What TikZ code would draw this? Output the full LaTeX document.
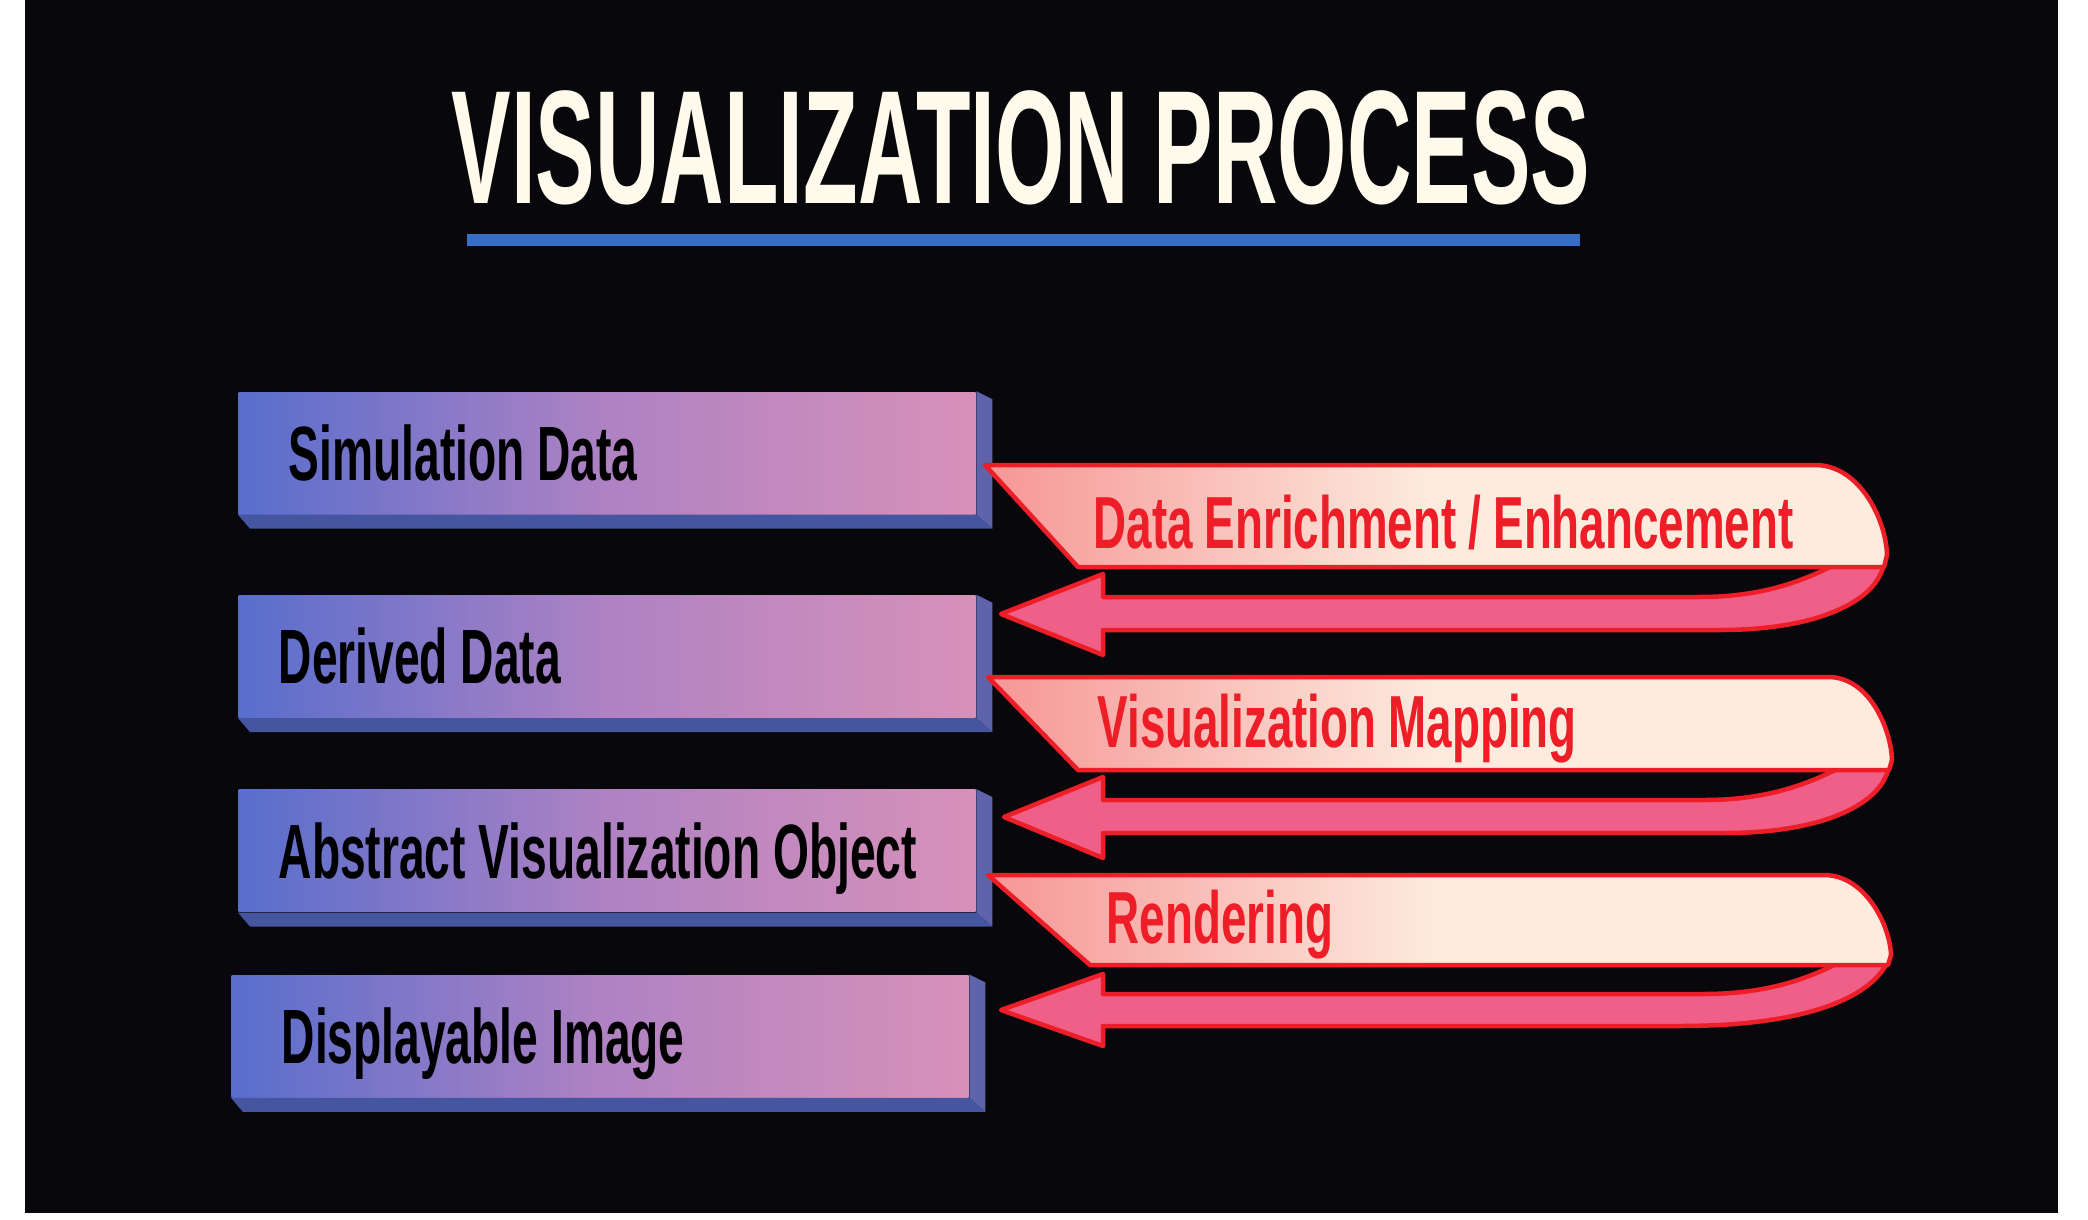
\documentclass[tikz,border=0pt]{standalone}
\usepackage{fontspec}
\newfontfamily\titlefont{Liberation Sans}[FakeStretch=0.552]
\newfontfamily\barfont{Liberation Sans}[FakeStretch=0.60, WordSpace=1.0]
\newfontfamily\stepfont{Liberation Sans}[FakeStretch=0.62, WordSpace=0.95]
\usetikzlibrary{positioning}

\definecolor{bgblack}{RGB}{8,8,12}
\definecolor{titlewhite}{RGB}{255,250,235}
\definecolor{ruleblue}{RGB}{55,110,195}
\definecolor{barblue}{RGB}{88,110,205}
\definecolor{barmid}{RGB}{175,130,195}
\definecolor{barpink}{RGB}{215,145,185}
\definecolor{barside}{RGB}{95,100,170}
\definecolor{barbottom}{RGB}{70,85,160}
\definecolor{ribbonred}{RGB}{238,30,40}
\definecolor{ribbonrose}{RGB}{246,150,150}
\definecolor{ribboncream}{RGB}{253,236,222}
\definecolor{ribbonpink}{RGB}{240,95,135}

\begin{document}
\begin{tikzpicture}[x = 0.1mm, y = -0.1mm,
titletext/.style = {anchor = base, inner sep = 0pt, text = titlewhite, font = \titlefont\bfseries\fontsize{46}{50}\selectfont},
rule/.style = {draw = ruleblue, line width = 1.2mm},
databox/.style = {shape = rectangle, left color = barblue, right color = barpink, middle color = barmid, text = black, font = \barfont\bfseries\fontsize{21.9}{24}\selectfont, minimum width = 73.7mm, minimum height = 12.2mm, text width = 65.7mm, align = flush left, inner xsep = 4mm, inner ysep = 0pt, text height = 5.5mm, text depth = 0pt},
barside/.style = {fill = barside},
barbottom/.style = {fill = barbottom},
stepface/.style = {draw = ribbonred, line width = 0.45mm, line join = round, left color = ribbonrose, right color = ribboncream, middle color = ribboncream},
stepunder/.style = {draw = ribbonred, line width = 0.45mm, line join = round, fill = ribbonpink},
steptext/.style = {anchor = base west, inner sep = 0pt, text = ribbonred, font = \stepfont\bfseries\fontsize{21}{24}\selectfont},
]
\useasboundingbox (0,0) rectangle (2088,1220);
\fill[white] (0,0) rectangle (2088,1220);
\fill[bgblack] (25,0) rectangle (2058,1213);

\node[titletext] (title) at (1021,203) {VISUALIZATION PROCESS};
\draw[rule] (467,240) -- (1580,240);

\node[databox, anchor = west] (sim) at (238,453) {\hspace{1mm}Simulation Data};
\node[databox] (der) [below = 8mm of sim] {Derived Data};
\node[databox] (avo) [below = 7.1mm of der] {Abstract Visualization Object};
\node[databox] (img) [below = 6.2mm of avo, xshift = -0.7mm] {\hspace{1mm}Displayable Image};

\fill[barside] (sim.north east) -- ++(16,8) -- ([shift={(16,14)}]sim.south east) -- (sim.south east) -- cycle;
\fill[barbottom] (sim.south west) -- (sim.south east) -- ([shift={(16,14)}]sim.south east) -- ([shift={(12,14)}]sim.south west) -- cycle;
\fill[barside] (der.north east) -- ++(16,8) -- ([shift={(16,14)}]der.south east) -- (der.south east) -- cycle;
\fill[barbottom] (der.south west) -- (der.south east) -- ([shift={(16,14)}]der.south east) -- ([shift={(12,14)}]der.south west) -- cycle;
\fill[barside] (avo.north east) -- ++(16,8) -- ([shift={(16,14)}]avo.south east) -- (avo.south east) -- cycle;
\fill[barbottom] (avo.south west) -- (avo.south east) -- ([shift={(16,14)}]avo.south east) -- ([shift={(12,14)}]avo.south west) -- cycle;
\fill[barside] (img.north east) -- ++(16,8) -- ([shift={(16,14)}]img.south east) -- (img.south east) -- cycle;
\fill[barbottom] (img.south west) -- (img.south east) -- ([shift={(16,14)}]img.south east) -- ([shift={(12,14)}]img.south west) -- cycle;

% data enrichment
\draw[stepunder] (1884,563) .. controls (1878,600) and (1820,630) .. (1720,630) -- (1103,630) -- (1103,655) -- (1001,614) -- (1103,574) -- (1103,597) -- (1700,597) .. controls (1760,597) and (1800,582) .. (1830,567) -- cycle;
\draw[stepface] (985,465) -- (1815,465) .. controls (1860,465) and (1886,520) .. (1887,555) -- (1884,567) -- (1078,567) -- cycle;
\node[steptext] (enrich) at (1093,548) {Data Enrichment / Enhancement};

% mapping
\draw[stepunder] (1889,766) .. controls (1883,803) and (1825,833) .. (1725,833) -- (1103,833) -- (1103,858) -- (1004,817) -- (1103,777) -- (1103,800) -- (1705,800) .. controls (1765,800) and (1805,785) .. (1835,770) -- cycle;
\draw[stepface] (988,677) -- (1828,677) .. controls (1870,677) and (1891,730) .. (1892,760) -- (1889,770) -- (1078,770) -- cycle;
\node[steptext] (mapping) at (1097,747) {Visualization Mapping};

% rendering
\draw[stepunder] (1888,961) .. controls (1870,1000) and (1800,1026) .. (1680,1026) -- (1103,1026) -- (1103,1046) -- (1001,1010) -- (1103,974) -- (1103,994) -- (1704,994) .. controls (1764,994) and (1804,980) .. (1834,965) -- cycle;
\draw[stepface] (988,875) -- (1824,875) .. controls (1865,875) and (1890,925) .. (1891,955) -- (1888,965) -- (1090,965) -- cycle;
\node[steptext] (render) at (1106,943) {Rendering};
\end{tikzpicture}
\end{document}
